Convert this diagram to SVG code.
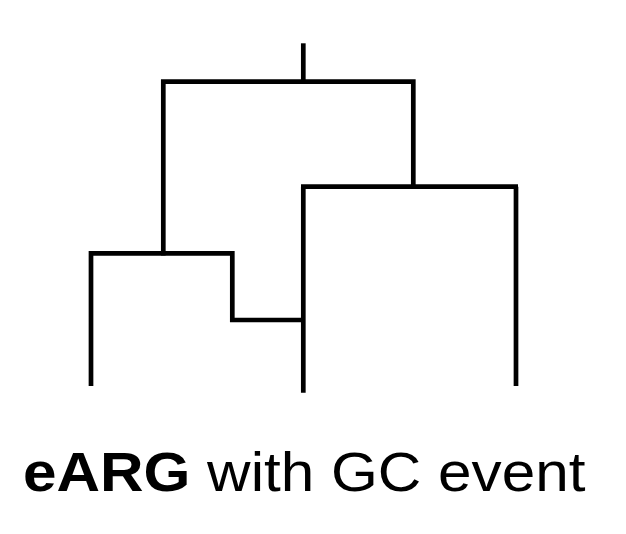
<svg xmlns="http://www.w3.org/2000/svg" width="626" height="534" viewBox="0 0 626 534">
<style>
.e{fill:none;stroke:#000;stroke-width:4.7;stroke-linecap:butt;stroke-linejoin:miter}
.t{font-family:"Liberation Sans",Arial,sans-serif;font-size:56px;fill:#000}
</style>
<rect width="626" height="534" fill="#fff"/>
<g id="connectors">
<path class="e" d="M303.3,43.3 V81.7"/>
<path class="e" d="M163.3,255.6 V81.7 H413.3 V189"/>
<path class="e" d="M301,186.7 H518"/>
<path class="e" d="M303.3,186.7 V392.7"/>
<path class="e" d="M516,186.7 V386"/>
<path class="e" d="M91,386 V253.3 H232.3 V320 H303.3"/>
</g>
<g id="label">
<text class="t" transform="translate(23,491) scale(1.076,1)"><tspan font-weight="bold">eARG</tspan> with GC event</text>
</g>
</svg>
